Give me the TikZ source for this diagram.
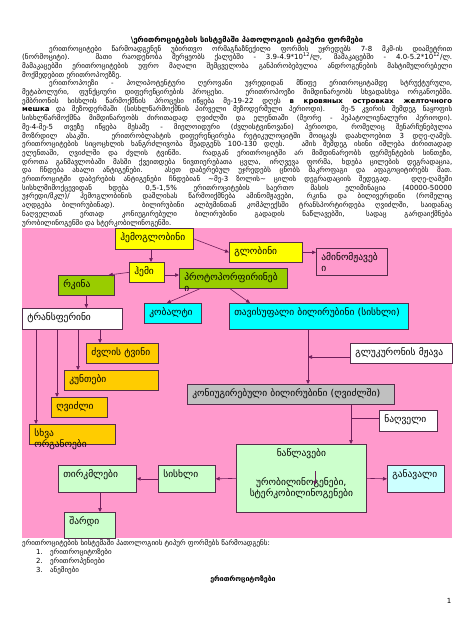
\documentclass[tikz,border=0pt]{standalone}
\usepackage{fontspec}
\setmainfont{DejaVu Sans}
\usetikzlibrary{arrows.meta,calc}
\definecolor{rozsa}{RGB}{255,153,204}
\definecolor{sarga}{RGB}{255,255,0}
\definecolor{oliva}{RGB}{153,204,0}
\definecolor{cian}{RGB}{0,255,255}
\definecolor{arany}{RGB}{255,204,0}
\definecolor{szurke}{RGB}{192,192,192}
\definecolor{vzold}{RGB}{204,255,204}
\definecolor{vcian}{RGB}{204,255,255}
\definecolor{keret}{RGB}{85,45,75}
\definecolor{lila}{RGB}{110,30,90}
\tikzset{
  doboz/.style 2 args={draw=keret,line width=0.7pt,anchor=north west,inner xsep=5pt,inner ysep=3pt,
    align=left,font=\fontsize{9.5}{11}\selectfont,minimum width=#1pt,minimum height=#2pt,text height=9pt,
    /utils/exec={\pgfmathsetlengthmacro\dszel{#1-10}\pgfmathsetlengthmacro\dmely{#2-15}},
    text width=\dszel,text depth=\dmely},
  nyil/.style={-{Triangle[length=4pt,width=3.5pt]},draw=lila,line width=0.6pt},
  vonal/.style={draw=lila,line width=0.6pt},
  szoveg/.style={font=\fontsize{7}{8.7}\selectfont,inner sep=0pt},
}

\begin{document}
\begin{tikzpicture}[x=1pt,y=-1pt]
  \useasboundingbox (0,0) rectangle (474,632);
  \fill[white] (0,0) rectangle (474,632);

  % szoveg a tablazat felett
  \node[szoveg,font=\bfseries\fontsize{7.5}{9}\selectfont] (cim) at (247,40)
    {\textbackslash ერითროციტების სისტემაში პათოლოგიის ტიპური ფორმები};
  \node[szoveg,anchor=base west,text width=430pt,align=justify] (torzs) at (22,51) {%
\hspace*{27pt}ერითროციტები წარმოადგენენ უბირთვო ორმაგჩაზნექილი ფორმის უჯრედებს 7-8 მკმ-ის დიამეტრით\linebreak
(ნორმოციტი). მათი რაოდენობა მერყეობს ქალებში - 3.9-4.9*10\textsuperscript{12}/ლ, მამაკაცებში - 4.0-5.2*10\textsuperscript{12}/ლ.\linebreak
მამაკაცებში ერითროციტების უფრო მაღალი შემცველობა განპირობებულია ანდროგენების მასტიმულირებელი\linebreak
მოქმედებით ერითროპოეზზე.\par
\hspace*{27pt}ერითროპოეზი - პოლიპოტენტური ღეროვანი უჯრედიდან მწიფე ერითროციტამდე სტრუქტურული,\linebreak
მეტაბოლური, ფუნქციური დიფერენცირების პროცესი. ერითროპოეზი მიმდინარეობს სხვადასხვა ორგანოებში.\linebreak
ემბრიონის სისხლის წარმოქმნის პროცესი იწყება მე-19-22 დღეს \textbf{в кровяных островках желточного}\linebreak
\textbf{мешка} და მეზოდერმაში (სისხლწარმოქმნის პირველი მეზოდერმული პერიოდი). მე-5 კვირის შემდეგ ნაყოფის\linebreak
სისხლწარმოქმნა მიმდინარეობს ძირითადად ღვიძლში და ელენთაში (მეორე - ჰეპატოლიენალური პერიოდი).\linebreak
მე-4-მე-5 თვეზე იწყება მესამე - მიელოიდური (ძვლისტვინოვანი) პერიოდი, რომელიც შენარჩუნებულია\linebreak
მოზრდილ ასაკში. ერითრობლასტის დიფერენცირება რეტიკულოციტში მოიცავს დაახლოებით 3 დღე-ღამეს.\linebreak
ერითროციტების სიცოცხლის ხანგრძლივობა შეადგენს 100-130 დღეს. ამის შემდეგ ისინი იშლება ძირითადად\linebreak
ელენთაში, ღვიძლში და ძვლის ტვინში. რადგან ერითროციტში არ მიმდინარეობს ფერმენტების სინთეზი,\linebreak
დროთა განმავლობაში მასში ქვეითდება ნივთიერებათა ცვლა, ირღვევა ფორმა, ხდება ცილების დეგრადაცია,\linebreak
და ჩნდება ახალი ანტიგენები. ასეთ დაბერებულ უჯრედებს ცნობს მაკროფაგი და აფაგოციტირებს მათ.\linebreak
ერითროციტში დაბერების ანტიგენები ჩნდებიან \textasciitilde მე-3 ზოლის\textasciitilde{} ცილის დეგრადაციის შედეგად. დღე-ღამეში\linebreak
სისხლმიმოქცევიდან ხდება 0,5-1,5\% ერითროციტების საერთო მასის ელიმინაცია (40000-50000\linebreak
უჯრედი/მკლ)/ ჰემოგლობინის დაშლისას წარმოიქმნება ამინომჟავები, რკინა და ბილივერდინი (რომელიც\linebreak
აღდგება ბილირუბინად). ბილირუბინი ალბუმინთან კომპლექსში ტრანსპორტირდება ღვიძლში, საიდანაც\linebreak
ნაღველთან ერთად კონიუგირებული ბილირუბინი გადადის ნაწლავებში, სადაც გარდაიქმნება\linebreak
ურობილინოგენში და სტერკობილინოგენში.};

  % a sema
  \fill[rozsa] (22,228) rectangle (452,538);
  \coordinate (k1) at (151,0);
  \coordinate (k2) at (0,275);
  \coordinate (k3) at (100,0);
  \coordinate (t1) at (36,0);
  \coordinate (t2) at (57,0);
  \coordinate (t3) at (78,0);
  \coordinate (t4) at (100,0);
  \coordinate (bil) at (308,357);
  \coordinate (nag) at (351,418);
  \coordinate (be1) at (315,471);
  \coordinate (be2) at (315,485);

  \node[doboz={78}{21},fill=sarga] (hgb) at (115,228) {ჰემოგლობინი};
  \node[doboz={73}{20},fill=sarga] (glob) at (229,242) {გლობინი};
  \node[doboz={71}{27},fill=rozsa] (amino) at (316,248) {ამინომჟავებ\\ი};
  \node[doboz={35}{20},fill=sarga] (hem) at (129,262) {ჰემი};
  \node[doboz={56}{20},fill=oliva] (vas) at (58,275) {რკინა};
  \node[doboz={108}{20},fill=oliva] (proto) at (179,268) {პროტოპორფირინებ\\ი};
  \node[doboz={57}{20},fill=cian] (kob) at (144,303) {კობალტი};
  \node[doboz={179}{26},fill=cian] (szabil) at (229,303) {თავისუფალი ბილირუბინი (სისხლი)};
  \node[doboz={100}{21},fill=white] (transz) at (22,308) {ტრანსფერინი};
  \node[doboz={72}{20},fill=arany] (csvel) at (86,343) {ძვლის ტვინი};
  \node[doboz={94}{20},fill=arany] (izom) at (64,370) {კუნთები};
  \node[doboz={56}{20},fill=arany] (maj) at (51,397) {ღვიძლი};
  \node[doboz={86}{20},fill=arany] (egyeb) at (29,424) {სხვა\\ორგანოები};
  \node[doboz={102}{20},fill=white] (glukur) at (350,343) {გლუკურონის მჟავა};
  \node[doboz={207}{20},fill=szurke] (konj) at (187,384) {კონიუგირებული ბილირუბინი (ღვიძლში)};
  \node[doboz={58}{21},fill=white] (epe) at (379,410) {ნაღველი};
  \node[doboz={130}{68},fill=vzold,align=center] (bel) at (236,444)
    {ნაწლავები\\[18pt]ურობილინოგენები,\\სტერკობილინოგენები};
  \node[doboz={57}{27},fill=vzold] (ver) at (158,465) {სისხლი};
  \node[doboz={78}{27},fill=vzold] (vese) at (58,465) {თირკმლები};
  \node[doboz={57}{27},fill=vcian] (szeklet) at (387,465) {განავალი};
  \node[doboz={51}{26},fill=vzold] (vizelet) at (64,512) {შარდი};

  \draw[nyil] (hgb.east) -- (glob.west);
  \draw[nyil] (hgb.south -| k1) -- (hem.north -| k1);
  \draw[nyil] (glob.east) -- (amino.west |- glob.east);
  \draw[nyil] (hem.west) -- ([xshift=-6pt]vas.north east);
  \draw[nyil] (hem.east |- k2) -- (proto.west |- k2);
  \draw[nyil] ([xshift=21pt]proto.south west) -- ([xshift=-6pt]kob.north);
  \draw[nyil] ([xshift=51pt]proto.south west) -- ([xshift=21pt]szabil.north west);
  \draw[nyil] (vas.south) -- (vas.south |- transz.north);
  \foreach \t/\c in {t1/egyeb,t2/maj,t3/izom,t4/csvel}
    \draw[nyil] (transz.south -| \t) -- (\c.north -| \t);
  \draw[nyil] (szabil.south -| bil) -- (konj.north -| bil);
  \draw[nyil] (glukur.west |- bil) -- (bil);
  \draw[nyil] (konj.south -| nag) -- (bel.north -| nag);
  \draw[vonal] (epe.west |- nag) -- (nag);
  \draw[nyil] (bel.west) -- (ver.east);
  \draw[nyil] (ver.west) -- (vese.east);
  \draw[nyil] (bel.east) -- (szeklet.west);
  \draw[nyil] (vese.south -| k3) -- (vizelet.north -| k3);
  \draw[nyil] (be1) -- (be2);

  % szoveg a tablazat alatt
  \node[szoveg,anchor=base west] (osszeg) at (22,545)
    {ერითროციტების სისტემაში პათოლოგიის ტიპურ ფორმებს წარმოადგენს:};
  \node[szoveg,anchor=base west] (p1) at (36,554) {\makebox[14pt][l]{1.}ერითროციტოზები};
  \node[szoveg,anchor=base west] (p2) at (36,563) {\makebox[14pt][l]{2.}ერითროპენიები};
  \node[szoveg,anchor=base west] (p3) at (36,572) {\makebox[14pt][l]{3.}ანემიები};
  \node[szoveg,font=\bfseries\fontsize{7}{8.7}\selectfont,anchor=base] (alcim) at (243,581) {ერითროციტოზები};
  \node[szoveg,anchor=base] (oldal) at (449,603) {1};
\end{tikzpicture}
\end{document}
